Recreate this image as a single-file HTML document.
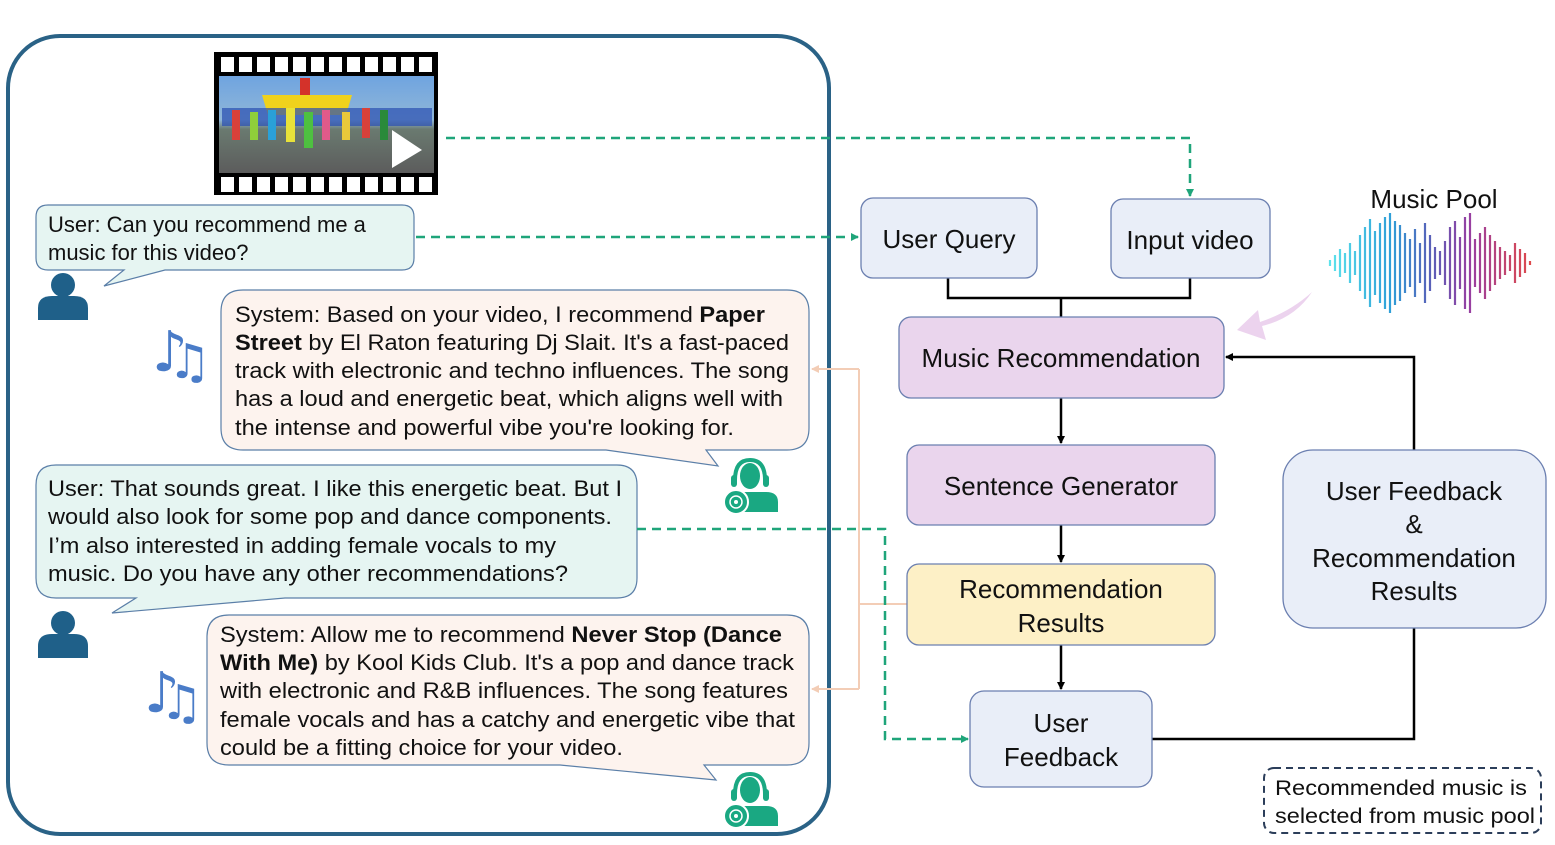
<!DOCTYPE html>
<html><head><meta charset="utf-8"><style>
html,body{margin:0;padding:0;background:#fff;}
svg{display:block;font-family:"Liberation Sans",Arial,sans-serif;}
</style></head><body>
<svg width="1555" height="845" viewBox="0 0 1555 845" xmlns="http://www.w3.org/2000/svg">
<defs>
<linearGradient id="wg" gradientUnits="userSpaceOnUse" x1="1330" y1="0" x2="1532" y2="0">
<stop offset="0" stop-color="#5ee3ec"/><stop offset="0.3" stop-color="#2f9fd8"/><stop offset="0.5" stop-color="#5a5fb8"/><stop offset="0.7" stop-color="#9a3ea0"/><stop offset="1" stop-color="#e04a4a"/>
</linearGradient>
<linearGradient id="sky" x1="0" y1="0" x2="0" y2="1">
<stop offset="0" stop-color="#6fa4e0"/><stop offset="0.45" stop-color="#8fb6d8"/><stop offset="0.55" stop-color="#6a7a70"/><stop offset="1" stop-color="#5c5c5c"/>
</linearGradient>
<marker id="ab" markerWidth="8" markerHeight="8" refX="7" refY="4" orient="auto" markerUnits="userSpaceOnUse"><path d="M0,0 L8,4 L0,8 z" fill="#000"/></marker>
<marker id="ag" markerWidth="8" markerHeight="8" refX="7" refY="4" orient="auto" markerUnits="userSpaceOnUse"><path d="M0,0 L8,4 L0,8 z" fill="#1fa57a"/></marker>
<marker id="ap" markerWidth="8" markerHeight="8" refX="7" refY="4" orient="auto" markerUnits="userSpaceOnUse"><path d="M0,0 L8,4 L0,8 z" fill="#f3cdb6"/></marker>
<g id="person"><circle cx="25" cy="13" r="12" fill="#1f6089"/><path d="M0,48 L0,36 Q0,24 14,24 L36,24 Q50,24 50,36 L50,48 Z" fill="#1f6089"/></g>
<g id="dj"><path d="M13,22 Q13,2 28,2 Q43,2 43,22" fill="none" stroke="#1aa882" stroke-width="4"/><ellipse cx="28" cy="18" rx="10" ry="13" fill="#1aa882"/><rect x="9" y="17" width="6" height="12" rx="3" fill="#1aa882"/><rect x="41" y="17" width="6" height="12" rx="3" fill="#1aa882"/><path d="M12,54 L12,44 Q12,34 24,34 L44,34 Q56,34 56,44 L56,54 Z" fill="#1aa882"/><circle cx="14" cy="44" r="12" fill="#1aa882" stroke="#fff" stroke-width="2"/><circle cx="14" cy="44" r="6" fill="none" stroke="#fff" stroke-width="1.5"/><circle cx="14" cy="44" r="2" fill="#fff"/></g>
<g id="notes" fill="#4a7cc8"><text x="0" y="45" font-size="56" font-family="DejaVu Sans, sans-serif">♪</text><text x="16" y="52" font-size="48" font-family="DejaVu Sans, sans-serif">♫</text></g>
</defs>

<rect x="8" y="36" width="821" height="798" rx="52" fill="#fff" stroke="#2a6286" stroke-width="4"/>

<rect x="214" y="52" width="224" height="143" fill="#000"/>
<g fill="#fff">
<rect x="221" y="57" width="13" height="15"/><rect x="239" y="57" width="13" height="15"/><rect x="257" y="57" width="13" height="15"/><rect x="275" y="57" width="13" height="15"/><rect x="293" y="57" width="13" height="15"/><rect x="311" y="57" width="13" height="15"/><rect x="329" y="57" width="13" height="15"/><rect x="347" y="57" width="13" height="15"/><rect x="365" y="57" width="13" height="15"/><rect x="383" y="57" width="13" height="15"/><rect x="401" y="57" width="13" height="15"/><rect x="419" y="57" width="13" height="15"/>
<rect x="221" y="177" width="13" height="15"/><rect x="239" y="177" width="13" height="15"/><rect x="257" y="177" width="13" height="15"/><rect x="275" y="177" width="13" height="15"/><rect x="293" y="177" width="13" height="15"/><rect x="311" y="177" width="13" height="15"/><rect x="329" y="177" width="13" height="15"/><rect x="347" y="177" width="13" height="15"/><rect x="365" y="177" width="13" height="15"/><rect x="383" y="177" width="13" height="15"/><rect x="401" y="177" width="13" height="15"/><rect x="419" y="177" width="13" height="15"/>
</g>
<rect x="219" y="76" width="215" height="97" fill="url(#sky)"/>
<rect x="300" y="78" width="10" height="30" fill="#d4322a"/>
<path d="M262,95 L352,95 L346,115 L268,115 Z" fill="#f0d21c"/>
<rect x="222" y="108" width="210" height="18" fill="#2a4fb0" opacity="0.7"/>
<g>
<rect x="232" y="110" width="8" height="30" fill="#d8413a"/><rect x="250" y="112" width="8" height="28" fill="#8fcf3a"/><rect x="268" y="110" width="8" height="30" fill="#2aa0d8"/><rect x="286" y="108" width="9" height="34" fill="#e8e23a"/><rect x="304" y="112" width="9" height="36" fill="#4ec040"/><rect x="322" y="110" width="8" height="30" fill="#e05a8a"/><rect x="342" y="112" width="8" height="28" fill="#e8c83a"/><rect x="362" y="108" width="8" height="30" fill="#d8413a"/><rect x="380" y="110" width="8" height="30" fill="#2a8a3a"/>
</g>
<path d="M392,130 L422,150 L392,168 Z" fill="#fff"/>

<path d="M48,205 L402,205 Q414,205 414,217 L414,258 Q414,270 402,270 L165,270 L104,286 L124,270 L48,270 Q36,270 36,258 L36,217 Q36,205 48,205 Z" fill="#e6f5f2" stroke="#5b7fa8" stroke-width="1.2"/>
<text font-size="22" fill="#111"><tspan x="48" y="232">User: Can you recommend me a</tspan><tspan x="48" y="260">music for this video?</tspan></text>

<path d="M243,290 L787,290 Q809,290 809,312 L809,428 Q809,450 787,450 L706,450 L718,466 L606,450 L243,450 Q221,450 221,428 L221,312 Q221,290 243,290 Z" fill="#fdf3ee" stroke="#5b7fa8" stroke-width="1.2"/>
<g font-size="22" fill="#111">
<text x="235" y="322" textLength="530" lengthAdjust="spacingAndGlyphs">System: Based on your video, I recommend <tspan font-weight="bold">Paper</tspan></text>
<text x="235" y="350" textLength="554" lengthAdjust="spacingAndGlyphs"><tspan font-weight="bold">Street</tspan> by El Raton featuring Dj Slait. It's a fast-paced</text>
<text x="235" y="378" textLength="554" lengthAdjust="spacingAndGlyphs">track with electronic and techno influences. The song</text>
<text x="235" y="406" textLength="548" lengthAdjust="spacingAndGlyphs">has a loud and energetic beat, which aligns well with</text>
<text x="235" y="435" textLength="499" lengthAdjust="spacingAndGlyphs">the intense and powerful vibe you're looking for.</text>
</g>

<path d="M56,465 L617,465 Q637,465 637,485 L637,578 Q637,598 617,598 L285,598 L112,613 L136,598 L56,598 Q36,598 36,578 L36,485 Q36,465 56,465 Z" fill="#e6f5f2" stroke="#5b7fa8" stroke-width="1.2"/>
<g font-size="22" fill="#111">
<text x="48" y="496" textLength="574" lengthAdjust="spacingAndGlyphs">User: That sounds great. I like this energetic beat. But I</text>
<text x="48" y="524" textLength="564" lengthAdjust="spacingAndGlyphs">would also look for some pop and dance components.</text>
<text x="48" y="553" textLength="508" lengthAdjust="spacingAndGlyphs">I’m also interested in adding female vocals to my</text>
<text x="48" y="581" textLength="520" lengthAdjust="spacingAndGlyphs">music. Do you have any other recommendations?</text>
</g>

<path d="M229,615 L787,615 Q809,615 809,637 L809,743 Q809,765 787,765 L704,765 L716,780 L560,765 L229,765 Q207,765 207,743 L207,637 Q207,615 229,615 Z" fill="#fdf3ee" stroke="#5b7fa8" stroke-width="1.2"/>
<g font-size="22" fill="#111">
<text x="220" y="642" textLength="562" lengthAdjust="spacingAndGlyphs">System: Allow me to recommend <tspan font-weight="bold">Never Stop (Dance</tspan></text>
<text x="220" y="670" textLength="574" lengthAdjust="spacingAndGlyphs"><tspan font-weight="bold">With Me)</tspan> by Kool Kids Club. It's a pop and dance track</text>
<text x="220" y="698" textLength="568" lengthAdjust="spacingAndGlyphs">with electronic and R&amp;B influences. The song features</text>
<text x="220" y="727" textLength="575" lengthAdjust="spacingAndGlyphs">female vocals and has a catchy and energetic vibe that</text>
<text x="220" y="755" textLength="403" lengthAdjust="spacingAndGlyphs">could be a fitting choice for your video.</text>
</g>

<use href="#person" x="38" y="272"/>
<use href="#person" x="38" y="610"/>
<use href="#dj" x="722" y="458"/>
<use href="#dj" x="722" y="772"/>
<use href="#notes" x="152" y="326"/>
<use href="#notes" x="144" y="667"/>

<g stroke="#f3cdb6" stroke-width="2" fill="none">
<path d="M907,604 L859,604"/>
<path d="M859,369 L859,689"/>
<path d="M859,369 L812,369" marker-end="url(#ap)"/>
<path d="M859,689 L812,689" marker-end="url(#ap)"/>
</g>

<g stroke="#1fa57a" stroke-width="2.5" fill="none" stroke-dasharray="9,6">
<path d="M446,138 L1190,138 L1190,196" marker-end="url(#ag)"/>
<path d="M416,237 L858,237" marker-end="url(#ag)"/>
<path d="M637,529 L885,529 L885,739 L968,739" marker-end="url(#ag)"/>
</g>

<g stroke="#000" stroke-width="2.5" fill="none">
<path d="M948,278 L948,298 L1190,298 L1190,278"/>
<path d="M1061,298 L1061,317"/>
<path d="M1061,398 L1061,443" marker-end="url(#ab)"/>
<path d="M1061,525 L1061,562" marker-end="url(#ab)"/>
<path d="M1061,645 L1061,689" marker-end="url(#ab)"/>
<path d="M1152,739 L1414,739 L1414,628"/>
<path d="M1414,450 L1414,357 L1226,357" marker-end="url(#ab)"/>
</g>

<g stroke="#6b7fb0" stroke-width="1.3">
<rect x="861" y="198" width="176" height="80" rx="12" fill="#e9eef8"/>
<rect x="1111" y="199" width="159" height="79" rx="12" fill="#e9eef8"/>
<rect x="899" y="317" width="325" height="81" rx="12" fill="#ead5ed"/>
<rect x="907" y="445" width="308" height="80" rx="12" fill="#ead5ed"/>
<rect x="907" y="564" width="308" height="81" rx="12" fill="#fdf0c6"/>
<rect x="970" y="691" width="182" height="96" rx="14" fill="#e9eef8"/>
<rect x="1283" y="450" width="263" height="178" rx="30" fill="#e9eef8"/>
</g>
<g font-size="26" fill="#111" text-anchor="middle">
<text x="949" y="248">User Query</text>
<text x="1190" y="249">Input video</text>
<text x="1061" y="367">Music Recommendation</text>
<text x="1061" y="495">Sentence Generator</text>
<text x="1061" y="598">Recommendation</text>
<text x="1061" y="632">Results</text>
<text x="1061" y="732">User</text>
<text x="1061" y="766">Feedback</text>
<text x="1414" y="500">User Feedback</text>
<text x="1414" y="533">&amp;</text>
<text x="1414" y="567">Recommendation</text>
<text x="1414" y="600">Results</text>
<text x="1434" y="208">Music Pool</text>
</g>

<g stroke="url(#wg)" stroke-width="2.2">
<path d="M1330,260v6M1335,255v16M1340,249v28M1345,253v20M1350,243v40M1355,251v24M1360,235v56M1365,227v72M1370,219v88M1375,231v64M1380,223v80M1385,217v92M1390,213v100M1395,221v84M1400,225v76M1405,233v60M1410,239v48M1415,229v68M1420,243v40M1425,223v80M1430,235v56M1435,247v32M1440,251v24M1445,241v44M1450,227v72M1455,221v84M1460,237v52M1465,217v92M1470,213v100M1475,239v48M1480,233v60M1485,227v72M1490,235v56M1495,241v44M1500,247v32M1505,251v24M1510,255v16M1515,243v40M1520,249v28M1525,253v20M1530,261v4"/>
</g>

<path d="M1312,292 Q1295,318 1262,326 L1266,340 L1237,330 L1258,310 L1260,322 Q1290,312 1312,292 Z" fill="#ecd3ee"/>

<rect x="1264" y="768" width="277" height="65" rx="10" fill="none" stroke="#2c3e5a" stroke-width="2" stroke-dasharray="7,5"/>
<g font-size="21" fill="#111">
<text x="1275" y="795" textLength="252" lengthAdjust="spacingAndGlyphs">Recommended music is</text>
<text x="1275" y="823" textLength="260" lengthAdjust="spacingAndGlyphs">selected from music pool</text>
</g>
</svg>
</body></html>
